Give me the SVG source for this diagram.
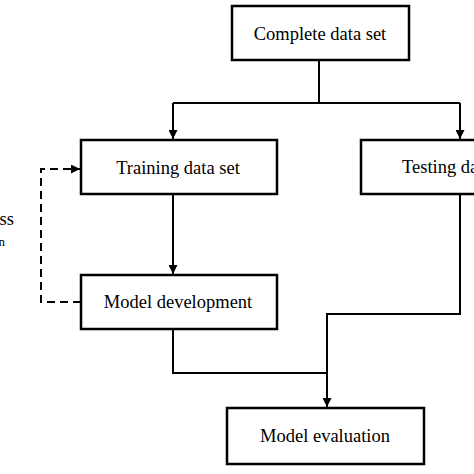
<svg xmlns="http://www.w3.org/2000/svg" width="474" height="474" viewBox="0 0 474 474">
<style>
.box{fill:#fff;stroke:#000;stroke-width:2.5}
.lbl{font-family:"Liberation Serif","Times New Roman",serif;font-size:18.5px;fill:#000;text-anchor:middle}
.side{font-family:"Liberation Serif","Times New Roman",serif;font-size:18.5px;fill:#000;text-anchor:end}
.ln{fill:none;stroke:#000;stroke-width:2}
.dash{fill:none;stroke:#000;stroke-width:2;stroke-dasharray:8,5}
</style>
<defs>
<marker id="ah" viewBox="0 0 10 10" refX="10" refY="5" markerWidth="4.5" markerHeight="4.5" orient="auto" markerUnits="strokeWidth">
<path d="M0,0 L10,5 L0,10 Z" fill="#000"/>
</marker>
</defs>
<rect width="474" height="474" fill="#fff"/>
<g id="connectors">
<path class="ln" d="M319,60 V103"/>
<path class="ln" d="M173,103 H460"/>
<path class="ln" d="M173,103 V139" marker-end="url(#ah)"/>
<path class="ln" d="M460,103 V139" marker-end="url(#ah)"/>
<path class="ln" d="M173,194 V274" marker-end="url(#ah)"/>
<path class="ln" d="M173,329 V373 H327"/>
<path class="ln" d="M460,194 V314 H327 V407" marker-end="url(#ah)"/>
<path class="dash" d="M81,302 H41 V169 H80" marker-end="url(#ah)"/>
</g>
<g id="node-complete">
<rect class="box" x="232" y="6" width="177" height="54"/>
<text class="lbl" x="320" y="40">Complete data set</text>
</g>
<g id="node-training">
<rect class="box" x="81" y="140" width="196" height="54"/>
<text class="lbl" x="178" y="174">Training data set</text>
</g>
<g id="node-testing">
<rect class="box" x="361" y="140" width="160" height="54"/>
<text class="lbl" x="402" y="173" style="text-anchor:start">Testing data set</text>
</g>
<g id="node-development">
<rect class="box" x="81" y="275" width="196" height="54"/>
<text class="lbl" x="178" y="308">Model development</text>
</g>
<g id="node-evaluation">
<rect class="box" x="227" y="408" width="197" height="56"/>
<text class="lbl" x="325" y="442">Model evaluation</text>
</g>
<g id="side-label">
<text class="side" x="14" y="225">ss</text>
<text class="side" x="5" y="246" style="font-size:13px">n</text>
</g>
</svg>
